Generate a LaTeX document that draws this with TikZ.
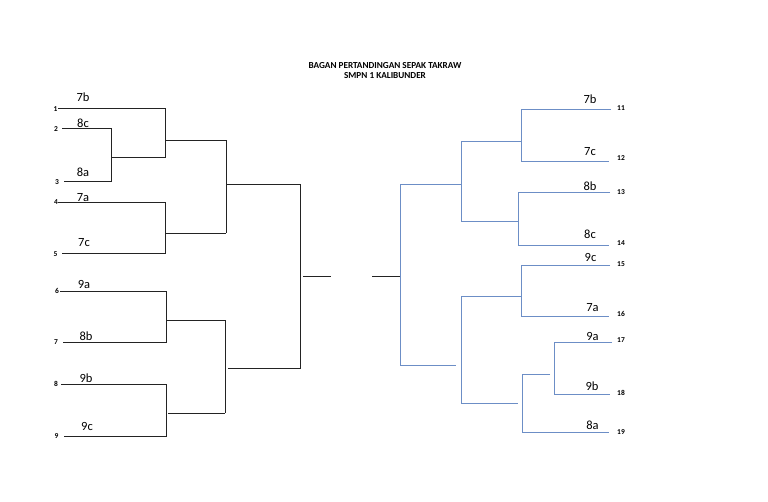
\documentclass[tikz,border=0pt]{standalone}
\usepackage{fontspec}
\setmainfont{Carlito}
\definecolor{linegray}{RGB}{35,35,35}
\definecolor{lineblue}{RGB}{108,142,198}
\begin{document}
\begin{tikzpicture}[x=1pt,y=-1pt,
  lft/.style={draw=linegray,line width=0.9pt},
  rgt/.style={draw=lineblue,line width=0.9pt},
  team/.style={font=\fontsize{12.5}{13}\selectfont,anchor=base,inner sep=0pt},
  num/.style={font=\fontsize{7.5}{8}\bfseries\selectfont,inner sep=0pt},
  ttl/.style={font=\fontsize{9.2}{10}\bfseries\selectfont,anchor=base,inner sep=0pt}]
\useasboundingbox (0,0) rectangle (768,501);
% title
\node[ttl] (t1) at (385,68) {BAGAN PERTANDINGAN SEPAK TAKRAW};
\node[ttl] (t2) at (385,78) {SMPN 1 KALIBUNDER};
% left numbers
\node[num] (n1) at (55.5,109) {1};
\node[num] (n2) at (56,129) {2};
\node[num] (n3) at (57,182) {3};
\node[num] (n4) at (56,202) {4};
\node[num] (n5) at (55.5,254) {5};
\node[num] (n6) at (57,291) {6};
\node[num] (n7) at (56,342) {7};
\node[num] (n8) at (56,384) {8};
\node[num] (n9) at (56.5,436) {9};
% left teams
\node[team] (a1) at (83,101) {7b};
\node[team] (a2) at (83,127) {8c};
\node[team] (a3) at (83,176) {8a};
\node[team] (a4) at (83,201) {7a};
\node[team] (a5) at (84,246) {7c};
\node[team] (a6) at (84,288) {9a};
\node[team] (a7) at (86,340) {8b};
\node[team] (a8) at (86,382) {9b};
\node[team] (a9) at (87,430) {9c};
% left bracket
\draw[lft] (62,128) -| (111,181) -- (64,181);
\draw[lft] (58,108) -| (165,157) -- (111,157);
\draw[lft] (165,140) -- (226,140);
\draw[lft] (58,202) -| (165,253) -- (62,253);
\draw[lft] (166,233) -- (226,233);
\draw[lft] (226,140) -- (226,233);
\draw[lft] (226,184) -| (300,368) -- (228,368);
\draw[lft] (60,291) -| (166,342) -- (63,342);
\draw[lft] (166,320) -- (225,320);
\draw[lft] (61,384) -| (166,436) -- (64,436);
\draw[lft] (168,413) -- (225,413);
\draw[lft] (225,320) -- (225,413);
% centre
\draw[lft] (303,276) -- (331,276);
\draw[lft] (372,276) -- (400,276);
% right numbers
\node[num] (m11) at (621,108.5) {11};
\node[num] (m12) at (621,158) {12};
\node[num] (m13) at (621,192) {13};
\node[num] (m14) at (621,243) {14};
\node[num] (m15) at (621,264.5) {15};
\node[num] (m16) at (621,313.5) {16};
\node[num] (m17) at (621,340.5) {17};
\node[num] (m18) at (621,393) {18};
\node[num] (m19) at (621,432) {19};
% right teams
\node[team] (b1) at (590,103) {7b};
\node[team] (b2) at (590,155.5) {7c};
\node[team] (b3) at (590,190) {8b};
\node[team] (b4) at (590,238) {8c};
\node[team] (b5) at (590.5,261.5) {9c};
\node[team] (b6) at (592.5,311.5) {7a};
\node[team] (b7) at (592.5,340) {9a};
\node[team] (b8) at (592,390.5) {9b};
\node[team] (b9) at (592.5,429) {8a};
% right bracket
\draw[rgt] (611,109) -| (521,161) -- (609,161);
\draw[rgt] (521,141) -| (461,221) -- (518,221);
\draw[rgt] (610,192) -| (518,245) -- (609,245);
\draw[rgt] (461,184) -| (400,365) -- (456,365);
\draw[rgt] (610,265) -| (521,316) -- (609,316);
\draw[rgt] (521,296) -| (461,403) -- (518,403);
\draw[rgt] (612,342) -| (554,394) -- (610,394);
\draw[rgt] (550,374) -| (522,432) -- (609,432);
\end{tikzpicture}
\end{document}
